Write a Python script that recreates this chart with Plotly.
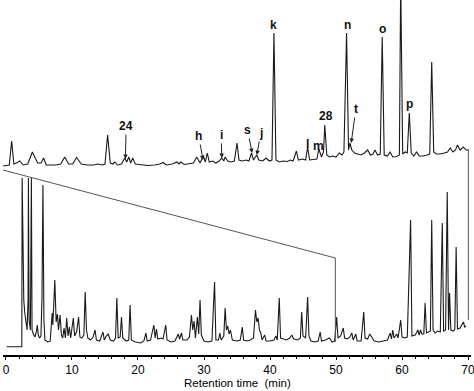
import plotly.graph_objects as go

# ---------------- data (signal above each trace's own baseline) ----------------
top_time = [-0.45, 0.5, 0.86, 1.2, 1.6, 2.1, 2.6, 3.3, 4.0, 4.8, 5.3, 5.7, 6.1, 7.5, 8.3, 8.9, 9.5, 10.1,
            10.7, 11.4, 12.3, 13.3, 13.9, 14.6, 15.0, 15.4, 15.8, 16.2, 16.5, 16.9, 17.5, 18.0, 18.3,
            18.6, 18.9, 19.2, 19.6, 20.5, 21.5, 22.5, 23.3, 23.8, 24.3, 25.2, 25.9, 26.2, 26.5, 27.0,
            27.8, 28.4, 28.9, 29.4, 29.9, 30.2, 30.5, 30.8, 31.3, 31.8, 32.3, 32.7, 33.0, 33.2, 33.6,
            34.1, 34.6, 35.0, 35.3, 35.8, 36.4, 36.8, 37.2, 37.5, 38.0, 38.3, 38.9, 39.4, 39.9, 40.3,
            40.6, 40.9, 41.4, 42.0, 42.6, 43.1, 43.5, 44.0, 44.3, 44.9, 45.4, 45.7, 46.0, 46.6, 47.1,
            47.4, 47.8, 48.1, 48.3, 48.6, 49.0, 49.5, 50.0, 50.5, 50.9, 51.2, 51.6, 51.9, 52.1, 52.4,
            52.8, 53.3, 53.8, 54.3, 54.8, 55.2, 55.6, 55.9, 56.3, 56.7, 57.0, 57.3, 57.8, 58.2, 58.6,
            59.2, 59.6, 59.8, 60.1, 60.5, 60.8, 61.1, 61.4, 61.8, 62.2, 62.6, 63.2, 63.8, 64.2, 64.5,
            64.8, 65.2, 65.8, 66.4, 66.9, 67.3, 67.7, 68.1, 68.4, 68.8, 69.3, 69.7, 70.0]
top_signal = [0, 1, 25, 2, 3, 5, 1, 2, 14, 3, 3, 8, 1, 1, 2, 9, 2, 2,
              8.5, 2, 1, 1, 2, 1, 2, 31, 3, 2, 4, 1, 2, 8, 4,
              9, 3, 8, 2, 1, 0.5, 1, 2, 3.5, 1, 2, 4, 2, 4, 1.5,
              2, 3, 9, 3, 10, 4, 13, 4, 5, 3, 5, 8, 5, 9, 5,
              4, 5, 23, 6, 5, 6, 5, 13, 6, 11, 6, 5, 8, 5, 6,
              133, 6, 4, 5, 4.5, 6, 5, 15, 6, 7, 6, 19, 6, 6.5, 7,
              17, 9, 14, 41, 11, 9, 10, 9, 13, 11, 14, 133, 16, 23, 16,
              13, 12, 11, 13, 16, 11, 12, 16, 11, 12, 129, 11, 10, 14, 9,
              9.5, 11, 186, 12, 14, 13, 53, 13, 10, 14, 10, 10, 11, 12, 104,
              14, 12, 12, 13, 14, 18, 14, 16, 21, 16, 19, 16, 16]

bottom_time = [0.1, 2.4, 2.45, 2.55, 2.7, 2.85, 3.0, 3.2, 3.35, 3.4, 3.5, 3.7, 3.85, 3.95, 4.2, 4.4,
               4.6, 4.75, 4.9, 5.1, 5.3, 5.45, 5.6, 5.75, 5.9, 6.3, 6.7, 6.9, 7.0, 7.1, 7.4, 7.6,
               7.8, 7.95, 8.2, 8.4, 8.6, 8.8, 9.0, 9.2, 9.4, 9.6, 9.8, 10.2, 10.4, 10.7, 11.0, 11.2,
               11.5, 11.8, 12.0, 12.2, 12.4, 12.8, 13.2, 13.5, 13.7, 14.2, 14.7, 14.9, 15.2, 15.5,
               15.8, 16.3, 16.6, 16.8, 17.0, 17.3, 17.5, 17.7, 18.2, 18.6, 18.8, 19.0, 19.6, 20.4,
               20.9, 21.2, 21.4, 21.9, 22.4, 22.6, 22.8, 23.0, 23.5, 23.8, 24.2, 24.4, 25.0, 25.6,
               26.1, 26.3, 26.6, 26.8, 27.4, 27.8, 28.1, 28.3, 28.5, 28.7, 29.0, 29.2, 29.4, 29.6,
               30.0, 30.6, 31.2, 31.6, 31.8, 32.2, 32.4, 32.6, 33.0, 33.2, 33.4, 33.6, 33.8, 34.0,
               34.3, 35.0, 35.5, 35.8, 36.0, 36.5, 37.0, 37.5, 37.8, 38.0, 38.2, 38.4, 38.6, 38.8,
               39.2, 39.4, 40.0, 40.6, 40.9, 41.1, 41.4, 41.6, 42.0, 42.5, 43.0, 43.3, 43.6, 44.2,
               44.6, 44.8, 45.0, 45.4, 45.7, 45.9, 46.2, 46.8, 47.3, 47.6, 47.8, 48.4, 49.0, 49.4,
               49.8, 50.1, 50.3, 50.7, 51.1, 51.3, 51.7, 52.1, 52.4, 52.6, 53.0, 53.2, 53.8, 54.2,
               54.4, 54.8, 55.1, 55.4, 55.8, 56.5, 57.2, 57.8, 58.2, 58.4, 58.6, 58.8, 59.2, 59.4,
               59.8, 60.0, 60.4, 60.8, 61.3, 61.5, 62.0, 62.4, 62.6, 62.8, 63.0, 63.3, 63.5, 63.7,
               64.0, 64.3, 64.5, 64.7, 65.0, 65.4, 65.8, 66.1, 66.3, 66.6, 66.85, 67.05, 67.2, 67.4,
               67.8, 68.0, 68.2, 68.4, 68.8, 69.1, 69.3, 69.5, 69.7]
bottom_signal = [-3.7, -3.7, 165, 93, 43, 30, 23, 13, 43, 165, 23, 13, 165, 13, 8, 6,
                 11, 18, 8, 5, 7, 43, 158, 23, 3, 1, 2, 18, 30, 18, 63, 21,
                 29, 13, 28, 8, 5, 15, 5, 25, 7, 16, 5, 25, 7, 11, 26, 6,
                 5, 8, 51, 13, 5, 3, 6, 13, 3, 2, 11, 3, 7, 9,
                 3, 2, 5, 45, 5, 6, 26, 5, 2, 3, 38, 3, 1, 0,
                 2, 10, 2, 3, 18, 5, 14, 4, 5, 4, 18, 3, 1, 2,
                 9, 4, 10, 3, 3, 6, 28, 13, 22, 5, 26, 9, 43, 8,
                 2, 1, 2, 61, 3, 3, 10, 3, 7, 35, 13, 17, 9, 13,
                 3, 2, 3, 16, 3, 2, 3, 5, 33, 21, 25, 13, 10, 3,
                 8, 2, 2, 3, 7, 3, 45, 5, 4, 3, 5, 8, 4, 3,
                 5, 31, 7, 5, 46, 7, 2, 1, 2, 11, 2, 3, 5, 1,
                 2, 26, 5, 7, 15, 5, 4, 6, 10, 3, 9, 2, 2, 31,
                 5, 4, 9, 6, 2, 1, 2, 3, 10, 4, 13, 5, 9, 5,
                 23, 6, 5, 6, 123, 7, 8, 13, 8, 13, 9, 9, 40, 10,
                 11, 12, 123, 13, 10, 12, 11, 120, 12, 13, 151, 13, 50, 13,
                 12, 14, 96, 14, 15, 18, 21, 16, 17]

# connector lines between the expanded (top) and full (bottom) traces, in plot units
connector_left_time = [-0.45, 49.9, 49.9]
connector_left_y = [185, 97, 13]
connector_right_time = [70.05, 70.05]
connector_right_y = [206, 35]

# peak labels (y in top-trace signal units)
label_text = ["24", "h", "i", "s", "j", "k", "l", "m", "28", "n", "t", "o", "p"]
label_time = [18.2, 29.2, 32.6, 36.6, 38.6, 40.6, 45.7, 47.3, 48.5, 51.7, 53.0, 57.0, 61.1]
label_y = [40, 30, 31, 36, 33, 141, 22, 20, 50, 141, 57, 137, 62]
arrow_time = [18.1, 29.85, 32.7, 37.3, 38.0, None, None, None, None, None, 52.3, None, None]
arrow_y = [7, 6, 8, 13, 11, None, None, None, None, None, 23, None, None]

x_ticks = [0, 10, 20, 30, 40, 50, 60, 70]
x_title = "Retention time  (min)"

TOP_OFFSET = 189
BOTTOM_OFFSET = 12

# ---------------- figure ----------------
fig = go.Figure()
fig.add_trace(go.Scatter(x=bottom_time, y=[v + BOTTOM_OFFSET for v in bottom_signal], mode="lines",
                         line=dict(color="#1a1a1a", width=1.1), hoverinfo="skip"))
fig.add_trace(go.Scatter(x=top_time, y=[v + TOP_OFFSET for v in top_signal], mode="lines",
                         line=dict(color="#1a1a1a", width=1.1), hoverinfo="skip"))
fig.add_trace(go.Scatter(x=connector_left_time, y=connector_left_y, mode="lines",
                         line=dict(color="#555555", width=1), hoverinfo="skip"))
fig.add_trace(go.Scatter(x=connector_right_time, y=connector_right_y, mode="lines",
                         line=dict(color="#555555", width=1), hoverinfo="skip"))

font_family = "Liberation Sans, Arial, sans-serif"
for txt, lt, ly, at, ay in zip(label_text, label_time, label_y, arrow_time, arrow_y):
    if at is None:
        fig.add_annotation(x=lt, y=ly + TOP_OFFSET, text=f"<b>{txt}</b>", showarrow=False,
                           font=dict(family=font_family, size=12, color="#111"))
    else:
        fig.add_annotation(x=at, y=ay + TOP_OFFSET, ax=lt, ay=ly + TOP_OFFSET, axref="x", ayref="y",
                           text=f"<b>{txt}</b>", showarrow=True, arrowhead=2, arrowsize=0.9,
                           arrowwidth=1, arrowcolor="#222", standoff=0,
                           font=dict(family=font_family, size=12, color="#111"))

# axis title as a paper-positioned annotation so it fits the bottom margin
fig.add_annotation(x=0.5, y=-0.078, xref="paper", yref="paper", xanchor="center", yanchor="middle",
                   text=x_title, showarrow=False,
                   font=dict(family=font_family, size=11.5, color="black"))

fig.update_layout(
    width=474, height=391,
    margin=dict(l=3, r=3, t=0, b=36),
    paper_bgcolor="white", plot_bgcolor="white",
    showlegend=False,
    xaxis=dict(range=[-0.45, 70.45], tickvals=x_ticks, ticks="outside", ticklen=3, tickwidth=1,
               tickcolor="black", showline=True, linecolor="black", linewidth=1.5,
               showgrid=False, zeroline=False, ticklabeloverflow="allow",
               minor=dict(ticks="outside", ticklen=2, dtick=2, tickcolor="black"),
               tickfont=dict(family=font_family, size=12, color="black")),
    yaxis=dict(range=[0, 355], visible=False, fixedrange=True),
)

# remove the browser's default page margin so the figure sits at the window's corner
fig.write_html("out.html", config={"displayModeBar": False},
               post_script="document.body.style.margin='0px';")
